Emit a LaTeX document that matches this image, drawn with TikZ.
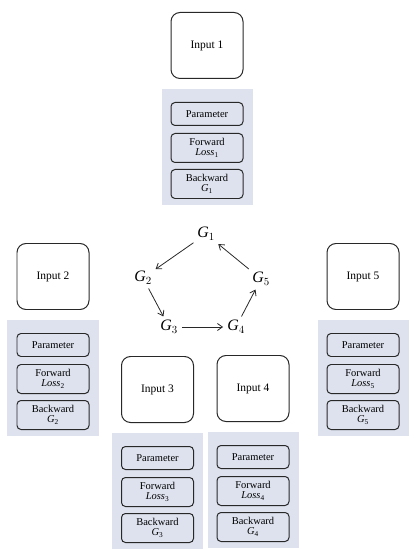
\documentclass[tikz,border=0pt]{standalone}
\usepackage{fontspec}
\setmainfont{Liberation Serif}
\usetikzlibrary{arrows.meta}
\definecolor{panelfill}{RGB}{221,226,238}
\definecolor{edgegray}{RGB}{40,40,40}
\tikzset{
  inbox/.style={draw=edgegray, line width=1pt, rounded corners=9bp, minimum width=72bp, minimum height=66bp, anchor=north, font=\fontsize{11.5}{13}\selectfont, inner sep=0pt},
  panel/.style={fill=panelfill, draw=none, minimum width=91bp, minimum height=116bp, anchor=north, inner sep=0pt},
  smallbox/.style={draw=edgegray, line width=1pt, rounded corners=4bp, minimum width=72bp, anchor=north, align=center, font=\fontsize{10.5}{12}\selectfont, inner sep=0pt},
  gnode/.style={font=\fontsize{16}{18}\selectfont, inner sep=2pt},
  garrow/.style={-{Straight Barb[length=5bp,width=7bp]}, line width=0.8pt, draw=edgegray, shorten >=2bp, shorten <=2bp}
}
\begin{document}
\begin{tikzpicture}[x=1bp,y=-1bp]
\useasboundingbox (0,0) rectangle (418,549);
\foreach \i/\cx/\top in {1/207/12, 2/53/243, 3/157.5/356, 4/253/355, 5/363/243}{
  \node[inbox] (in\i) at (\cx,\top) {Input \i};
  \node[panel] (pan\i) at (\cx,\top+77) {};
  \node[smallbox, minimum height=23bp] (par\i) at (\cx,\top+90) {Parameter};
  \node[smallbox, minimum height=29bp] (fw\i) at (\cx,\top+121) {Forward\\[-2pt]\textit{Loss}$_{\mathrm{\i}}$};
  \node[smallbox, minimum height=29bp] (bw\i) at (\cx,\top+157) {Backward\\[-2pt]\textit{G}$_{\mathrm{\i}}$};
}
\node[gnode] (g1) at (206,234) {\textit{G}$_1$};
\node[gnode] (g2) at (143,278) {\textit{G}$_2$};
\node[gnode] (g3) at (169,327) {\textit{G}$_3$};
\node[gnode] (g4) at (236,327) {\textit{G}$_4$};
\node[gnode] (g5) at (261,279) {\textit{G}$_5$};
\draw[garrow] (g1) -- (g2);
\draw[garrow] (g2) -- (g3);
\draw[garrow] (g3) -- (g4);
\draw[garrow] (g4) -- (g5);
\draw[garrow] (g5) -- (g1);
\end{tikzpicture}
\end{document}
